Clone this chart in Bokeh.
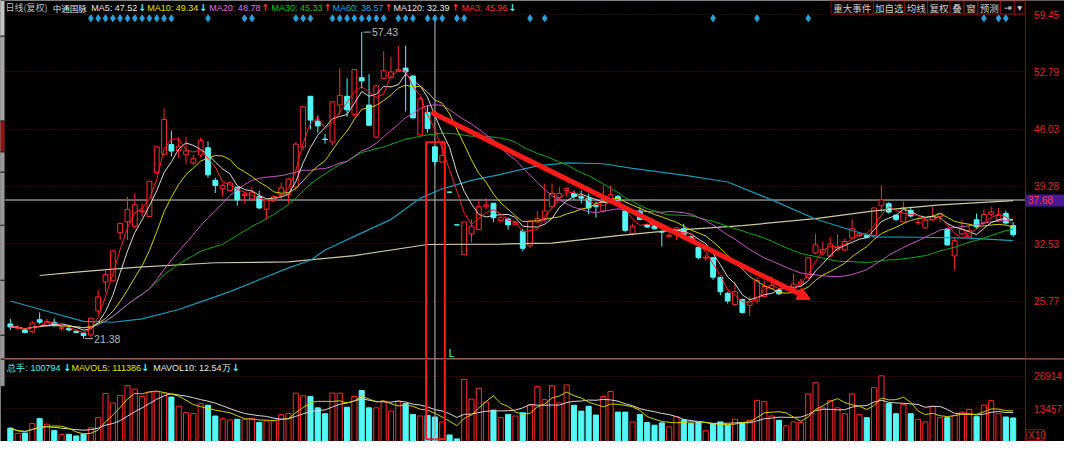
import pandas as pd
from bokeh.plotting import figure
from bokeh.layouts import column
from bokeh.models import (Range1d, FixedTicker, Span, Label, Arrow, NormalHead,
                          ColumnDataSource)
from bokeh.embed import file_html
from bokeh.resources import INLINE

# ---------------- data ----------------
opens = [23.1, 22.6, 22.4, 22.2, 23.6, 22.9, 23.3, 22.6, 22.6, 22.25,
         22.0, 21.8, 24.64, 28.04, 28.16, 33.83, 35.12, 34.59, 36.3, 35.73,
         40.9, 43.07, 44.2, 43.5, 43.0, 42.04, 42.99, 43.82, 40.0, 39.0,
         38.8, 39.2, 38.2, 37.8, 38.1, 36.6, 37.8, 38.3, 38.3, 39.2,
         43.93, 49.88, 46.96, 44.85, 44.5, 48.85, 49.88, 47.72, 52.07, 48.85,
         45.07, 51.99, 52.07, 52.83, 53.2, 52.26, 45.33, 47.98, 43.94, 42.16,
         38.62, 34.76, 31.26, 33.7, 34.2, 36.9, 37.3, 35.25, 35.45, 34.75,
         34.0, 32.3, 35.1, 35.5, 36.9, 38.0, 38.8, 38.45, 38.1, 37.9,
         37.0, 36.4, 37.7, 38.1, 36.4, 33.7, 36.4, 34.8, 34.6, 34.0,
         33.35, 33.95, 34.3, 33.35, 32.1, 30.85, 30.9, 28.6, 26.7, 25.4,
         25.97, 25.3, 25.8, 26.35, 27.3, 27.1, 27.2, 27.2, 27.8, 28.55,
         31.45, 31.45, 31.1, 31.8, 31.8, 33.2, 33.5, 33.5, 33.5, 37.0,
         37.25, 35.9, 35.1, 36.45, 35.0, 34.4, 35.35, 35.73, 34.2, 31.1,
         33.7, 33.35, 35.35, 35.05, 36.0, 35.4, 36.1, 34.67]
highs = [23.7, 23.0, 22.6, 23.4, 24.45, 23.7, 23.75, 22.9, 22.8, 22.4,
         22.1, 23.8, 27.1, 29.37, 31.8, 35.0, 38.07, 38.45, 37.3, 39.9,
         44.0, 48.48, 45.83, 45.07, 45.1, 43.0, 45.0, 44.6, 40.3, 39.6,
         39.9, 39.2, 38.7, 39.2, 38.8, 37.7, 38.3, 39.7, 40.3, 44.5,
         48.66, 49.9, 47.6, 45.45, 49.23, 53.2, 51.99, 53.02, 57.43, 52.5,
         51.12, 55.17, 54.53, 55.85, 55.85, 52.4, 49.8, 48.85, 44.0, 44.7,
         38.62, 34.76, 35.1, 35.4, 37.7, 37.9, 37.3, 35.9, 35.6, 35.2,
         34.3, 35.2, 36.4, 39.6, 39.6, 39.2, 39.2, 38.8, 38.8, 38.45,
         37.5, 39.4, 39.4, 38.3, 36.6, 34.9, 36.9, 34.9, 34.8, 34.1,
         33.8, 34.5, 34.9, 33.5, 32.3, 31.3, 31.0, 28.6, 26.9, 28.05,
         26.1, 26.35, 28.6, 28.2, 28.7, 27.3, 27.6, 29.0, 28.4, 30.9,
         33.7, 32.8, 33.35, 33.7, 33.2, 35.4, 33.9, 33.6, 36.75, 39.4,
         37.4, 36.0, 37.5, 36.9, 35.6, 35.5, 36.9, 36.2, 34.3, 33.2,
         35.4, 34.9, 36.1, 36.6, 36.9, 36.75, 36.45, 35.05]
lows = [22.4, 22.4, 22.0, 22.0, 23.1, 22.8, 22.75, 22.3, 22.2, 22.0,
        21.38, 21.5, 24.3, 26.8, 28.05, 32.96, 32.96, 34.3, 35.7, 35.6,
        40.7, 43.0, 42.8, 42.6, 41.9, 41.8, 42.7, 40.3, 38.5, 38.1,
        38.7, 37.0, 37.3, 37.5, 36.6, 35.4, 37.5, 37.7, 37.3, 38.8,
        43.5, 46.0, 45.6, 44.3, 44.1, 47.7, 47.5, 47.5, 50.8, 46.4,
        44.96, 51.9, 52.0, 52.8, 48.1, 47.3, 45.3, 45.6, 41.7, 42.1,
        38.6, 34.74, 31.2, 32.7, 34.2, 36.6, 35.1, 35.05, 34.2, 34.7,
        31.65, 32.0, 35.05, 35.05, 36.6, 37.7, 38.1, 37.7, 37.3, 36.0,
        35.6, 36.2, 37.3, 37.2, 33.9, 33.5, 35.35, 34.4, 34.2, 32.2,
        33.2, 33.0, 33.45, 32.8, 30.7, 30.5, 28.3, 26.5, 25.5, 25.2,
        24.3, 24.07, 25.5, 26.3, 27.2, 26.5, 27.0, 27.1, 27.5, 28.4,
        31.3, 31.1, 30.9, 31.65, 31.65, 33.2, 33.35, 33.2, 33.45, 36.2,
        36.1, 35.2, 35.05, 35.6, 34.7, 34.3, 35.25, 35.05, 32.3, 29.4,
        33.5, 33.35, 34.3, 34.9, 35.73, 35.05, 34.8, 33.35]
closes = [22.75, 22.7, 22.1, 23.2, 23.3, 23.4, 22.95, 22.65, 22.4, 22.1,
          21.75, 23.77, 26.27, 28.91, 31.71, 34.93, 36.56, 37.13, 36.4, 39.89,
          43.94, 47.15, 43.44, 44.0, 43.44, 42.54, 44.69, 40.64, 39.4, 39.4,
          39.7, 37.7, 38.35, 38.6, 36.75, 37.7, 38.1, 39.1, 40.15, 44.25,
          48.66, 47.08, 46.4, 44.8, 49.23, 49.99, 48.29, 53.02, 51.69, 46.47,
          51.12, 52.9, 52.75, 53.02, 52.75, 47.34, 49.6, 46.09, 42.2, 42.9,
          38.6, 34.74, 35.1, 34.6, 36.9, 37.1, 35.6, 35.6, 34.75, 35.05,
          32.0, 35.2, 35.5, 36.4, 38.45, 38.45, 39.05, 38.1, 37.9, 36.75,
          36.9, 37.4, 38.3, 37.6, 34.1, 34.6, 35.4, 34.5, 34.3, 33.9,
          33.55, 34.4, 33.6, 32.97, 30.9, 30.95, 28.6, 26.9, 25.8, 26.9,
          24.45, 25.7, 28.2, 27.5, 27.6, 26.65, 27.5, 27.8, 28.05, 30.9,
          32.4, 31.85, 32.5, 32.1, 32.8, 34.3, 33.7, 33.3, 36.75, 37.7,
          36.26, 35.4, 36.75, 35.8, 35.05, 35.3, 35.73, 36.1, 32.4, 32.9,
          34.2, 34.1, 34.5, 36.0, 36.26, 35.88, 34.97, 33.6]
volumes = [5517, 3364, 3499, 7401, 9420, 7132, 4575, 2826, 2960, 2288,
           3095, 5652, 9824, 19782, 15879, 18974, 23011, 21531, 18571, 20320,
           20455, 19916, 18302, 14534, 11842, 11573, 15610, 14937, 10496, 9420,
           8882, 9151, 9151, 9420, 7805, 8478, 8478, 11035, 11573, 19916,
           18840, 18571, 13861, 11438, 19916, 19916, 14130, 18571, 20993, 13861,
           13861, 16552, 12515, 16552, 15610, 11169, 10496, 10766, 10079, 8000,
           2691, 1077, 25568, 17494, 21935, 16283, 12919, 9824, 11169, 10496,
           11842, 15000, 22608, 17225, 23011, 15879, 23280, 14937, 12515, 14534,
           10900, 18571, 20589, 12111, 12111, 8074, 11169, 7805, 6729, 7670,
           6056, 10227, 8882, 7536, 8074, 4441, 7401, 8074, 6729, 9151,
           7805, 8747, 16956, 16417, 10496, 8747, 6459, 8074, 7805, 19647,
           24223, 13861, 16821, 13861, 11438, 19647, 11035, 9824, 22204, 27049,
           15610, 11438, 15206, 11438, 9151, 8074, 14534, 9824, 9824, 10766,
           12111, 13188, 10227, 14937, 16821, 11438, 10093, 9689]

ma60_idx = [0, 5, 10, 14, 18, 23, 26, 30, 34, 38, 41, 43, 47, 52, 56, 59, 63, 67,
            72, 76, 81, 85, 92, 98, 104, 110, 115, 118, 124, 131, 137]
ma60_val = [25.8, 24.6, 23.4, 23.3, 23.7, 24.8, 25.7, 26.9, 28.3, 29.7, 30.6, 31.8,
            33.4, 35.4, 37.9, 39.0, 40.0, 40.7, 41.7, 42.05, 41.95, 41.4, 40.6,
            39.8, 37.7, 35.45, 34.1, 33.35, 33.3, 33.2, 32.9]
ma120_idx = [4, 9, 17, 28, 38, 47, 57, 67, 74, 83, 89, 92, 100, 110, 118, 127, 137]
ma120_val = [28.8, 29.2, 29.75, 30.3, 30.4, 31.15, 32.45, 32.5, 32.6, 33.5, 34.0,
             34.2, 34.67, 35.5, 36.4, 37.1, 37.6]

event_idx = list(range(11, 23)) + [27, 32, 33, 39, 40, 41] + list(range(44, 52)) + \
    [53, 54, 55, 57, 58, 59, 61, 62, 71, 73, 96, 102, 109, 133, 135, 136]

price_ticks = [59.45, 52.79, 46.03, 39.28, 32.53, 25.77]
vol_ticks = [13457, 26914]
cursor_idx = 58
cursor_price = 37.68
high_idx, high_val = 48, 57.43
low_idx, low_val = 10, 21.38

header_items = [("MA5: 47.52", "↓"), ("MA10: 49.34", "↓"), ("MA20: 48.78", "↑"),
                ("MA30: 45.33", "↑"), ("MA60: 38.57", "↑"), ("MA120: 32.39", "↑"),
                ("MA3: 45.96", "↓")]
vol_header = [("总手: 100794", "↓"), ("MAVOL5: 111386", "↓"), ("MAVOL10: 12.54万", "↓")]
buttons = ["重大事件", "加自选", "均线", "复权", "叠", "窗", "预测", "⇥", "▾"]

# ---------------- helpers (reference pixel -> data coordinates) -------------
def ix(px):
    return (px - 10.0) / 7.43

def py(y):
    return 61.15 - y / 8.81

def vy(y):
    return (457.4 - y) * 395.8

RED = "#ff2a2a"
CYAN = "#54f6f6"
AXRED = "#e02828"
GRID = "#6a0c0c"
CJK = "Noto Sans CJK SC"
LAT = "Liberation Sans"

W, H1, H2 = 1064, 358, 83
AXIS_X = ix(1040)
xr = Range1d(ix(0), ix(1080))

n = len(closes)
idx = list(range(n))
up = [c >= o for o, c in zip(opens, closes)]
col = [RED if u else CYAN for u in up]
fill = ["#000000" if u else CYAN for u in up]
src = ColumnDataSource(dict(x=idx, h=highs, l=lows,
                            top=[max(o, c) for o, c in zip(opens, closes)],
                            bot=[min(o, c) for o, c in zip(opens, closes)],
                            col=col, fill=fill, v=volumes))

cs = pd.Series(closes)
ma = {k: cs.rolling(k, min_periods=1).mean().tolist() for k in (3, 5, 10, 20, 30)}
vs = pd.Series(volumes)
mavol5 = vs.rolling(5, min_periods=1).mean().tolist()
mavol10 = vs.rolling(10, min_periods=1).mean().tolist()


def base_fig(height, yr, ticks):
    f = figure(width=W, height=height, x_range=xr, y_range=yr, output_backend="svg",
               toolbar_location=None, background_fill_color="black",
               border_fill_color="black", min_border_left=0, min_border_right=0,
               min_border_top=0, min_border_bottom=0, x_axis_location=None,
               y_axis_location="right", outline_line_color=None)
    f.xgrid.visible = False
    ax = f.yaxis[0]
    ax.fixed_location = AXIS_X
    ax.ticker = FixedTicker(ticks=ticks)
    ax.axis_line_color = "#7a0a0a"
    ax.axis_line_width = 1.2
    ax.major_tick_line_color = None
    ax.minor_tick_line_color = None
    ax.major_label_text_color = AXRED
    ax.major_label_text_font = LAT
    ax.major_label_text_font_size = "10px"
    ax.major_label_standoff = 3
    f.ygrid.ticker = FixedTicker(ticks=ticks)
    f.ygrid.grid_line_color = GRID
    f.ygrid.grid_line_dash = "1 2"
    # axis area on the right stays black (grid lines stop at the axis)
    f.quad(left=AXIS_X, right=ix(1090), bottom=yr.start, top=yr.end,
           fill_color="black", line_color=None)
    return f


def lbl(fig, x, y, text, color, font=LAT, size="9px", **kw):
    fig.add_layout(Label(x=x, y=y, text=text, text_color=color, text_font=font,
                         text_font_size=size, text_baseline="middle", **kw))

# ---------------- price panel ----------------
p1 = base_fig(H1, Range1d(py(371), py(0)), price_ticks)

# left tab strip
tab_edges = [0, 37, 125, 157, 178, 233, 290, 347, 371]
tab_cols = ["#c4c4c4", "#a6a6a6", "#8e1414", "#9a9a9a", "#9a9a9a", "#9a9a9a", "#9a9a9a", "#9a9a9a"]
p1.quad(left=ix(-2), right=ix(4.5), top=[py(t) for t in tab_edges[:-1]],
        bottom=[py(b) for b in tab_edges[1:]], fill_color=tab_cols,
        line_color="#202020", line_width=1)

# crosshair
p1.segment(x0=[ix(4.5)], y0=[cursor_price], x1=[AXIS_X], y1=[cursor_price],
           line_color="#d0d0d0", line_width=1)
p1.segment(x0=[cursor_idx], y0=[py(15)], x1=[cursor_idx], y1=[py(371)],
           line_color="#a0a0a0", line_width=1.2)

p1.segment(x0="x", y0="l", x1="x", y1="h", line_color="col", source=src, line_width=1)
p1.vbar(x="x", width=0.66, top="top", bottom="bot", fill_color="fill",
        line_color="col", source=src, line_width=1)

p1.line(ma120_idx, ma120_val, line_color="#cdc9a0", line_width=1.2)
p1.line(ma60_idx, ma60_val, line_color="#1a9ab8", line_width=1.2)
p1.line(idx, ma[30], line_color="#14a814", line_width=1)
p1.line(idx, ma[20], line_color="#c858c8", line_width=1)
p1.line(idx, ma[10], line_color="#d0d000", line_width=1)
p1.line(idx, ma[5], line_color="#d8d8d8", line_width=1)
p1.line(idx, ma[3], line_color="#ff2020", line_width=1)

p1.scatter(event_idx, [py(18.5)] * len(event_idx), marker="diamond", size=7,
           fill_color="#2c9ed8", line_color="#2c9ed8")

# red box and arrow annotations
bx0, bx1, btop = ix(432), ix(451), py(147)
p1.line([bx0, bx0, bx1, bx1], [py(380), btop, btop, py(380)], line_color="#ff1a1a", line_width=2)
p1.add_layout(Arrow(end=NormalHead(size=13, fill_color="#ff1a1a", line_color="#ff1a1a"),
                    x_start=57.5, y_start=48.0, x_end=109.3, y_end=26.0,
                    line_color="#ff1a1a", line_width=5))

# max / min markers
p1.segment(x0=[high_idx + 0.2], y0=[high_val], x1=[ix(376)], y1=[high_val], line_color="#b0b0b0")
lbl(p1, ix(377), high_val, f"{high_val:.2f}", "#b8b8b8", size="10.5px")
p1.segment(x0=[low_idx + 0.2], y0=[low_val], x1=[ix(94)], y1=[low_val], line_color="#b0b0b0")
lbl(p1, ix(95), low_val, f"{low_val:.2f}", "#b8b8b8", size="10.5px")
lbl(p1, ix(455), py(366), "L", CYAN, size="10px")

# header
hy = py(7.5)
lbl(p1, ix(5), hy, "日线(复权)", "#bdbdbd", font=CJK, size="9px")
lbl(p1, ix(53), hy, "中通国脉", "#e6e6e6", font=CJK, size="8.5px")
head_x = [92, 149, 212, 275, 337, 399, 468]
head_arrow_x = [140, 202, 265, 328, 390, 458, 516]
head_cols = ["#e6e6e6", "#e3e300", "#e070e0", "#10c810", "#28a8d8", "#e6e6e6", "#ff3030"]
for (t, a), x0, xa, c in zip(header_items, head_x, head_arrow_x, head_cols):
    lbl(p1, ix(x0), hy, t, c, size="9px")
    lbl(p1, ix(xa), hy, a, CYAN if a == "↓" else "#ff3030", font="DejaVu Sans",
        size="9.5px", text_font_style="bold")

# buttons top-right
btn_edges = [843, 886, 918, 941, 964, 978, 992, 1015, 1029, 1040]
p1.quad(left=[ix(a) for a in btn_edges[:-1]], right=[ix(b) for b in btn_edges[1:]],
        top=py(0.5), bottom=py(14), fill_color="#050505", line_color="#8a1010", line_width=1)
for t, a, b in zip(buttons, btn_edges[:-1], btn_edges[1:]):
    lbl(p1, (ix(a) + ix(b)) / 2, py(7.5), t, "#d0d0d0",
        font=CJK if t not in ("⇥", "▾") else "DejaVu Sans", size="9.5px", text_align="center")

# crosshair price tag on the right axis
p1.quad(left=ix(1041), right=ix(1080), top=py(201), bottom=py(213.5),
        fill_color="#4a1890", line_color=None)
lbl(p1, ix(1043), cursor_price, f"{cursor_price:.2f}", "#ff3a3a", size="10px")

# ---------------- volume panel ----------------
p2 = base_fig(H2, Range1d(0, vy(371)), vol_ticks)

p2.quad(left=ix(-2), right=ix(4.5), top=[vy(371)], bottom=[vy(400)],
        fill_color="#9a9a9a", line_color="#202020")
p2.add_layout(Span(location=vy(371.8), dimension="width", line_color="#a01010", line_width=1.5))
p2.add_layout(Span(location=cursor_idx, dimension="height", line_color="#a0a0a0", line_width=1.2))

p2.vbar(x="x", width=0.7, top="v", bottom=0, fill_color="fill", line_color="col",
        source=src, line_width=1)
p2.line(idx, mavol10, line_color="#d8d8d8", line_width=1)
p2.line(idx, mavol5, line_color="#d0d000", line_width=1)

p2.line([bx0, bx0, bx1, bx1], [vy(360), vy(455), vy(455), vy(360)], line_color="#ff1a1a", line_width=2)

vhy = vy(380.5)
vx = [7, 72, 155]
vax = [64, 143, 235]
vcols = [CYAN, "#e3e300", "#e6e6e6"]
for (t, a), x0, xa, c in zip(vol_header, vx, vax, vcols):
    lbl(p2, ix(x0), vhy, t, c, size="9px")
    lbl(p2, ix(xa), vhy, a, CYAN, font="DejaVu Sans", size="9.5px", text_font_style="bold")

p2.quad(left=ix(1041.5), right=ix(1060), top=vy(445), bottom=vy(456.5),
        fill_color="black", line_color="#8a1010")
lbl(p2, ix(1043), vy(451), "X10", AXRED, size="10px")

layout = column(p1, p2, spacing=0)
open("out.html", "w").write(file_html(layout, INLINE))
